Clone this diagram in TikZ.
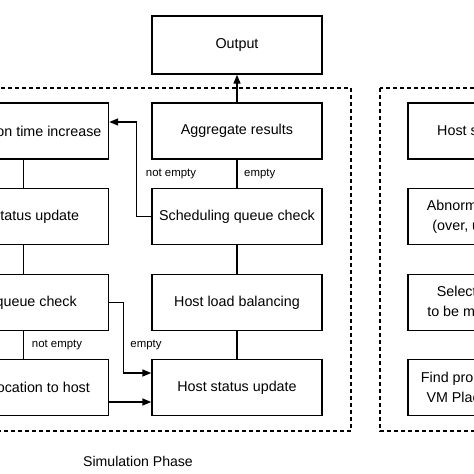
\documentclass[tikz,border=0pt]{standalone}
\usepackage{fontspec}
\setmainfont{Liberation Sans}
\usetikzlibrary{arrows.meta}
\begin{document}
\begin{tikzpicture}[x=1pt,y=-1pt,
  box/.style={draw, line width=1.4pt, minimum width=170pt, minimum height=56pt, align=center, font=\fontsize{14.3}{20}\selectfont, inner sep=0pt},
  rbox/.style={box, minimum width=130pt},
  lbl/.style={font=\fontsize{11.4}{13}\selectfont, inner sep=0pt},
  conn/.style={line width=1.4pt},
  arr/.style={conn, -{Triangle[length=9pt,width=7pt]}},
  phase/.style={draw, line width=1.3pt, dash pattern=on 4pt off 3pt}]
\useasboundingbox (0,0) rectangle (474,474);
\clip (0,0) rectangle (474,474);
% phase frames
\draw[phase] (-10,88) rectangle (351,431);
\draw[phase] (380,88) rectangle (490,431);
% output
\node[box, minimum height=58pt] (out) at (237,45) {Output};
% left column
\node[box] (sim) at (23.5,131) {Simulation time increase};
\node[box] (vsu) at (23.5,216.5) {VM status update};
\node[box] (vqc) at (23.5,302.5) {VM queue check};
\node[box] (vah) at (23.5,387.5) {VM allocation to host};
% middle column
\node[box] (agg) at (237,131) {Aggregate results};
\node[box] (sqc) at (237,216.5) {Scheduling queue check};
\node[box] (hlb) at (237,302.5) {Host load balancing};
\node[box] (hsu) at (237,387.5) {Host status update};
% right column
\node[rbox] (r1) at (473,131) {Host status};
\node[rbox] (r2) at (473,216.5) {Abnormal host\\(over, under)};
\node[rbox] (r3) at (473,302.5) {Select VMs\\to be migrated};
\node[rbox] (r4) at (473,387.5) {Find proper host\\VM Placement};
% connectors
\draw[arr] (agg.north) -- (out.south);
\draw[conn] (agg.south) -- (sqc.north);
\draw[conn] (sqc.south) -- (hlb.north);
\draw[conn] (hlb.south) -- (hsu.north);
\draw[arr] (sqc.west) -- ++(-15,0) |- ([yshift=9pt]sim.east);
\draw[conn] (sim.south) -- (vsu.north);
\draw[conn] (vsu.south) -- (vqc.north);
\draw[conn] (vqc.south) -- (vah.north);
\draw[arr] (vqc.east) -- ++(14,0) |- ([yshift=14.5pt]hsu.west);
\draw[arr] ([yshift=-14.5pt]vah.east) -- ([yshift=-14.5pt]hsu.west);
% labels
\node[lbl] (l1) at (171,174) {not empty};
\node[lbl, anchor=west] (l2) at (244,174) {empty};
\node[lbl] (l3) at (57,345) {not empty};
\node[lbl] (l4) at (146,345) {empty};
\node[font=\fontsize{14.1}{17}\selectfont, inner sep=0pt] (ph) at (138,461) {Simulation Phase};
\end{tikzpicture}
\end{document}
